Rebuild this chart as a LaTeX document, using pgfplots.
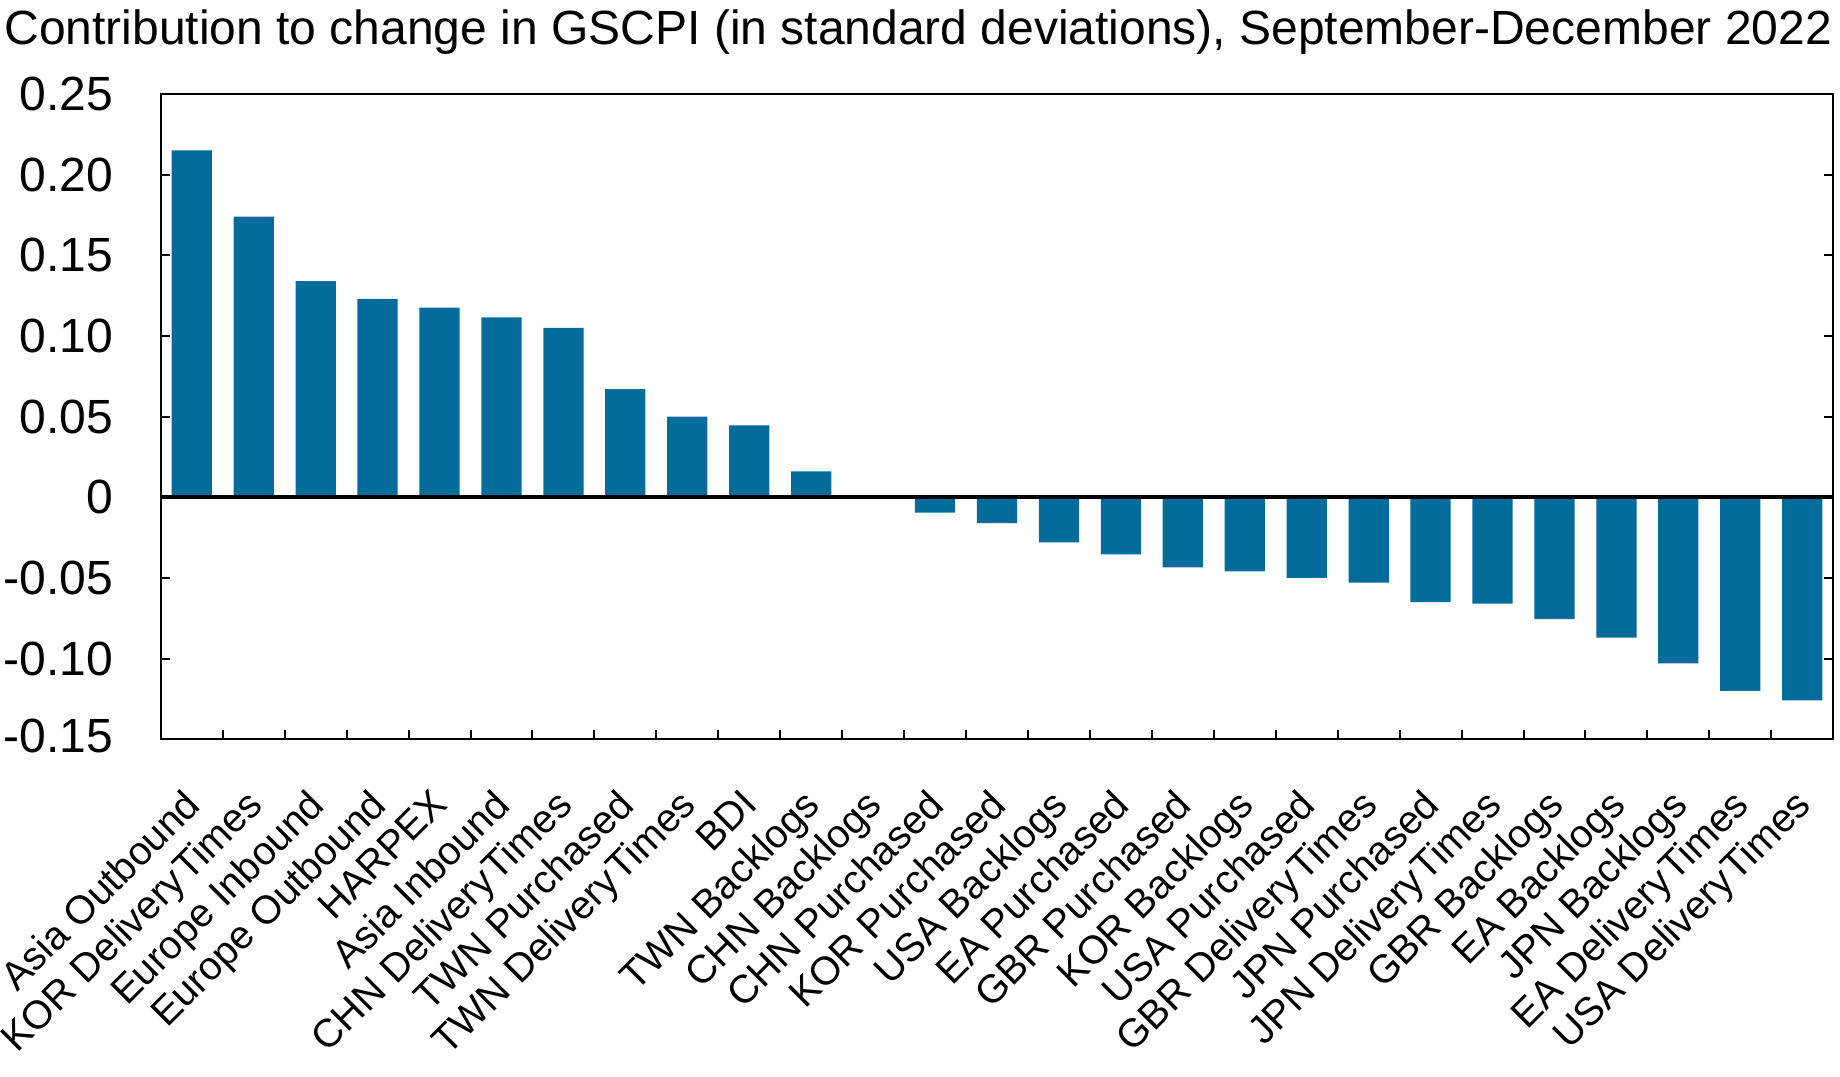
\documentclass[border=0pt]{standalone}
\usepackage{fontspec}
\setmainfont{Liberation Sans}
\usepackage{pgfplots}
\usepackage{pgfplotstable}
\pgfplotsset{compat=1.18}

\definecolor{barblue}{RGB}{4,108,155}
\newcommand{\DT}{Delivery\kern-0.22em\ Times}

% contribution to change in GSCPI, Sep-Dec 2022
\pgfplotstableread{
idx val
0   0.2150
1   0.1740
2   0.1340
3   0.1230
4   0.1175
5   0.1115
6   0.1050
7   0.0670
8   0.0500
9   0.0445
10  0.0160
11  0.0005
12  -0.0095
13  -0.0160
14  -0.0280
15  -0.0355
16  -0.0435
17  -0.0460
18  -0.0500
19  -0.0530
20  -0.0650
21  -0.0660
22  -0.0755
23  -0.0870
24  -0.1030
25  -0.1200
26  -0.1260
}\gscpi

\begin{document}
\begin{tikzpicture}
\begin{axis}[
    at={(40.2pt,84.45pt)}, anchor=south west,
    scale only axis,
    width=418.1pt, height=161.3pt,
    xmin=-0.5, xmax=26.5,
    ymin=-0.15, ymax=0.25,
    axis line style={line width=0.55pt},
    tick align=inside,
    xtick pos=bottom,
    ytick pos=both,
    major tick length=2.2pt,
    minor tick length=2.2pt,
    tick style={black, line width=0.5pt},
    xtick={0,...,26},
    major x tick style={draw=none},
    minor xtick={0.5,1.5,...,25.5},
    xticklabels={Asia Outbound, KOR \DT, Europe Inbound, Europe Outbound, HARPEX, Asia Inbound, CHN \DT, TWN Purchased, TWN \DT, BDI, TWN Backlogs, CHN Backlogs, CHN Purchased, KOR Purchased, USA Backlogs, EA Purchased, GBR Purchased, KOR Backlogs, USA Purchased, GBR \DT, JPN Purchased, JPN \DT, GBR Backlogs, EA Backlogs, JPN Backlogs, EA \DT, USA \DT},
    xticklabel style={xshift=-2.4pt, yshift=-11.7pt, rotate=45, anchor=north east,
        inner sep=0pt, font=\fontsize{9.9}{12}\selectfont},
    ytick={-0.10,-0.05,0,0.05,0.10,0.15,0.20},
    yticklabels={-0.10,-0.05,0,0.05,0.10,0.15,0.20},
    extra y ticks={-0.15,0.25},
    extra y tick labels={\raisebox{1.5pt}{-0.15},\raisebox{-2.5pt}{0.25}},
    yticklabel style={anchor=east, inner sep=0pt, xshift=-11.8pt,
        font=\fontsize{12}{14}\selectfont},
    clip=false,
]
\addplot[ybar, bar width=0.65, fill=barblue, draw=none] table[x=idx, y=val] {\gscpi};
\draw[black, line width=0.9pt] (axis cs:-0.5,0) -- (axis cs:26.5,0);
\end{axis}
\node[anchor=base west, inner sep=0pt, font=\fontsize{12}{14}\selectfont] at (0.9pt,258.0pt)
    {Contribution to change in GSCPI (in standard deviations), September-December 2022};
\pgfresetboundingbox
\path (0,0) rectangle (460pt,269.25pt);
\end{tikzpicture}
\end{document}
